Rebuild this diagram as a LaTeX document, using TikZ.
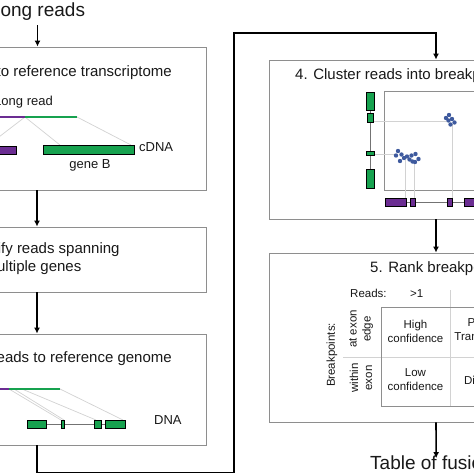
\documentclass[tikz,border=0pt]{standalone}
\usepackage{fontspec}
\setmainfont{Liberation Sans}
\usetikzlibrary{arrows.meta,positioning}
\definecolor{framegray}{HTML}{8E8E8E}
\definecolor{guidegray}{HTML}{D2D2D2}
\definecolor{geneA}{HTML}{6B2D92}
\definecolor{geneB}{HTML}{17A24F}
\definecolor{dotblue}{HTML}{3E5A9E}
\newcommand{\flowfont}{\fontsize{19}{22}\selectfont}
\newcommand{\headfont}{\fontsize{15}{18}\selectfont}
\newcommand{\labfont}{\fontsize{13}{15}\selectfont}
\newcommand{\tabfont}{\fontsize{11.5}{14}\selectfont}
\tikzset{
  panel/.style={draw=framegray,line width=0.9pt,fill=white,inner sep=0pt},
  txt/.style={inner sep=0pt,text=black!90},
  arr/.style={-{Latex[length=6pt,width=6pt]},line width=1.6pt},
  exonA/.style={draw=black,line width=0.7pt,fill=geneA},
  exonB/.style={draw=black,line width=0.7pt,fill=geneB},
  guide/.style={draw=guidegray,line width=0.7pt},
  intron/.style={draw=black!55,line width=0.8pt},
  readA/.style={draw=geneA,line width=2pt},
  readB/.style={draw=geneB,line width=2pt},
  cellline/.style={draw=guidegray,line width=0.8pt},
}
\begin{document}
\begin{tikzpicture}[x=1pt,y=-1pt]
  \useasboundingbox (0,0) rectangle (474,474);
  \clip (0,0) rectangle (474,474);
  % left column
  \node[txt,font=\flowfont,anchor=base] (reads) at (37.5,16) {Long reads};
  \node[panel,minimum width=338pt,minimum height=143pt] (align1) at (37,118.5) {};
  \node[panel,minimum width=338pt,minimum height=65pt] (span2) at (37,259.5) {};
  \node[panel,minimum width=338pt,minimum height=111pt] (align3) at (37,389.5) {};
  % right column
  \node[panel,minimum width=334pt,minimum height=159pt] (cluster4) at (436,139.5) {};
  \node[panel,minimum width=334pt,minimum height=169pt] (rank5) at (436,337.5) {};
  \node[txt,font=\flowfont,anchor=base west] (table) at (370,469) {Table of fusions};
  \coordinate (bend) at (234,33);

  % 1. transcriptome
  \node[txt,font=\headfont,anchor=base east] (t1) at (172,76) {1. Align reads to reference transcriptome};
  \node[txt,font=\labfont,anchor=base east] (lr) at (53,105) {Long read};
  \draw[guide] (25,117) -- (-5,140);
  \draw[guide] (25,117) -- (60,145);
  \draw[guide] (77,117) -- (131,145);
  \draw[readA] (-10,117) -- (25,117);
  \draw[readB] (25,117) -- (77,117);
  \draw[exonA] (-20,146) rectangle (16,154);
  \draw[exonB] (43,145) rectangle (134,154);
  \node[txt,font=\labfont,anchor=base west] (cdna) at (139,151) {cDNA};
  \node[txt,font=\labfont,anchor=base] (gb) at (90,168) {gene B};

  % 2. spanning reads
  \node[txt,font=\headfont,align=center,anchor=base] (t2) at (33,271) {2. Identify reads spanning\\multiple genes};

  % 3. genome
  \node[txt,font=\headfont,anchor=base east] (t3) at (172,362) {3. Align reads to reference genome};
  \draw[guide] (9,389) -- (61,420);
  \draw[guide] (14,389) -- (64,420);
  \draw[guide] (22,389) -- (96,420);
  \draw[guide] (60,389) -- (123,420);
  \draw[readA] (-10,389) -- (9,389);
  \draw[readB] (9,389) -- (60,389);
  \draw[intron] (46,424) -- (105,424);
  \draw[exonB] (27,420) rectangle (46,428);
  \draw[exonB] (61,420) rectangle (64,428);
  \draw[exonB] (94,420) rectangle (101,428);
  \draw[exonB] (105,420) rectangle (125,428);
  \node[txt,font=\labfont,anchor=base west] (dna) at (154,424) {DNA};

  % 4. clusters
  \node[txt,font=\headfont,anchor=base west] (t4) at (295,79) {4. Cluster reads into breakpoints};
  \draw[framegray,line width=1pt] (384,91) rectangle (495,190);
  \draw[guide] (374,121) -- (447,121);
  \draw[guide] (374,154) -- (397,154);
  \draw[guide] (405,160) -- (405,198);
  \draw[guide] (414,161) -- (414,198);
  \draw[guide] (452,124) -- (452,198);
  \draw[intron] (370,110) -- (370,169);
  \draw[exonB] (366,92) rectangle (374,110);
  \draw[exonB] (367,113) rectangle (373,122);
  \draw[exonB] (366,151) rectangle (374,155);
  \draw[exonB] (366,169) rectangle (374,188);
  \draw[intron] (406,202) -- (480,202);
  \draw[exonA] (385,198) rectangle (406,206);
  \draw[exonA] (410,198) rectangle (415,206);
  \draw[exonA] (447,198) rectangle (452,206);
  \draw[exonA] (464,198) rectangle (490,206);
  \foreach \px/\py in {446/118,449/115,448.5/120.5,452/119,454.5/122.5,450.5/124.5,
      398/151,396/155.5,401.5/154.5,400/161,404/158,407/156.5,409.5/159.5,411.5/155.5,412.5/161.5,415.5/154,418.5/159,415/162}
    \fill[dotblue] (\px,\py) circle (2.2pt);

  % 5. ranking
  \node[txt,font=\headfont,anchor=base west] (t5) at (370,272) {5. Rank breakpoints};
  \node[txt,font=\tabfont,anchor=base west] (rd) at (350,297) {Reads:};
  \node[txt,font=\tabfont,anchor=base west] (gt) at (410,297) {>1};
  \draw[cellline] (450,290) -- (450,406);
  \draw[cellline] (343,357) -- (520,357);
  \draw[framegray,line width=1pt] (381,307) rectangle (520,406);
  \node[txt,font=\tabfont,rotate=90] (bp) at (332,355) {Breakpoints:};
  \node[txt,font=\tabfont,rotate=90,align=center] (edge) at (361,329) {at exon\\edge};
  \node[txt,font=\tabfont,rotate=90,align=center] (within) at (361,378) {within\\exon};
  \node[txt,font=\tabfont,align=center] (high) at (415.5,331) {High\\confidence};
  \node[txt,font=\tabfont,align=center] (low) at (415.5,380) {Low\\confidence};
  \node[txt,font=\tabfont,align=center] (pot) at (490,331) {Potential\\Trans-splicing};
  \node[txt,font=\tabfont,align=center] (disc) at (490,380) {Discarded};

  % connectors
  \draw[arr,shorten <=5pt] (reads.south) -- (reads.south |- align1.north);
  \draw[arr] (align1.south) -- (span2.north);
  \draw[arr] (span2.south) -- (align3.north);
  \draw[arr] (align3.south) -- ++(0,27) -| (bend) -| (cluster4.north);
  \draw[arr] (cluster4.south) -- (rank5.north);
  \draw[arr] (rank5.south) -- ([yshift=-3pt]table.north);
\end{tikzpicture}
\end{document}
